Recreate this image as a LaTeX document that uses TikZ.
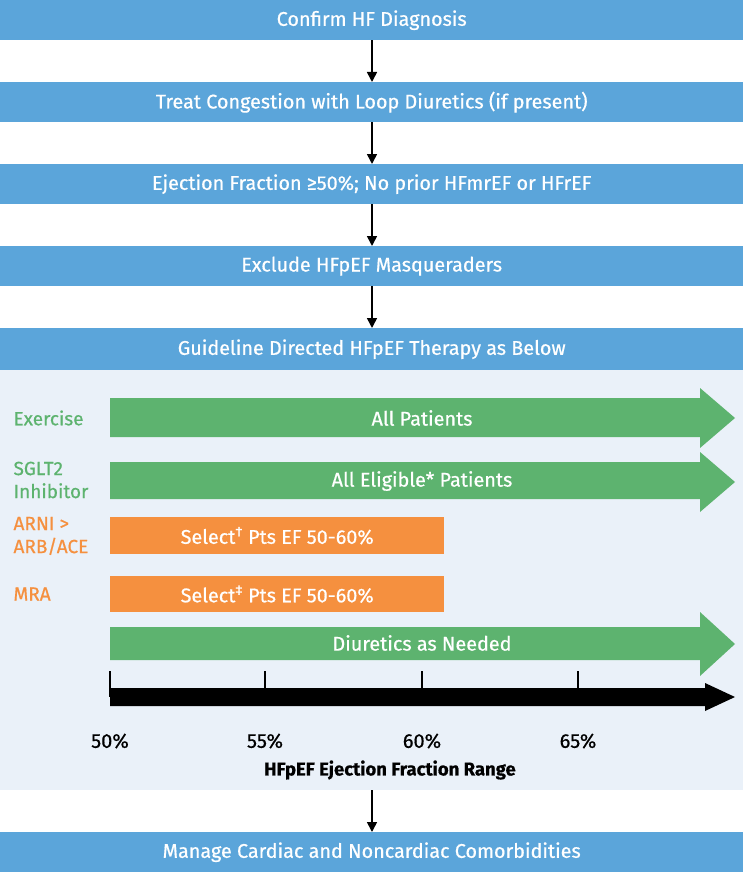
\documentclass[tikz,border=0pt]{standalone}
\usepackage{fontspec}
\setmainfont[FakeBold=0.6]{Fira Sans}
\usetikzlibrary{arrows.meta}
\definecolor{barblue}{HTML}{5BA5DA}
\definecolor{panel}{HTML}{EAF1F9}
\definecolor{grn}{HTML}{5DB36F}
\definecolor{org}{HTML}{F5903F}
\begin{document}
\begin{tikzpicture}[x=1pt,y=-1pt,
 bar/.style={fill=barblue,draw=none,minimum width=743pt,minimum height=40pt,inner sep=0,text=white,font=\fontsize{19.8}{22}\selectfont,anchor=north west},
 flow/.style={-{Triangle[length=10pt,width=10pt]},line width=1.6pt},
 lab/.style={anchor=west,font=\fontsize{19}{23}\selectfont,align=left},
 wt/.style={text=white,font=\fontsize{19.8}{22}\selectfont}]
\useasboundingbox (0,0) rectangle (745,875);
\fill[white] (0,0) rectangle (745,875);
\fill[panel] (0,370) rectangle (743,790);
\node[bar] (b1) at (0,0) {Confirm HF Diagnosis};
\node[bar] (b2) at (0,82) {Treat Congestion with Loop Diuretics (if present)};
\node[bar] (b3) at (0,164) {Ejection Fraction ≥50\%; No prior HFmrEF or HFrEF};
\node[bar] (b4) at (0,246) {Exclude HFpEF Masqueraders};
\node[bar,minimum height=42pt] (b5) at (0,328) {Guideline Directed HFpEF Therapy as Below};
\node[bar] (b6) at (0,832) {Manage Cardiac and Noncardiac Comorbidities};
\coordinate (pb) at (372,790);
\draw[flow] (b1.south -| 372,0) -- (b2.north -| 372,0);
\draw[flow] (b2.south -| 372,0) -- (b3.north -| 372,0);
\draw[flow] (b3.south -| 372,0) -- (b4.north -| 372,0);
\draw[flow] (b4.south -| 372,0) -- (b5.north -| 372,0);
\draw[flow] (pb) -- (b6.north -| 372,0);
% green arrows
\fill[grn] (110,398) -- (700,398) -- (700,388) -- (735,418) -- (700,448) -- (700,437) -- (110,437) -- cycle;
\node[wt] (a1) at (422,418) {All Patients};
\fill[grn] (110,462) -- (700,462) -- (700,452) -- (735,482) -- (700,512) -- (700,499) -- (110,499) -- cycle;
\node[wt] (a2) at (422,481) {All Eligible* Patients};
\fill[grn] (110,627) -- (700,627) -- (700,612) -- (735,644) -- (700,676) -- (700,660) -- (110,660) -- cycle;
\node[wt] (a5) at (422,643) {Diuretics as Needed};
\node[fill=org,minimum width=334pt,minimum height=37pt,inner sep=0,anchor=north west,wt] (a3) at (110,517) {Select\textsuperscript{†} Pts EF 50-60\%};
\node[fill=org,minimum width=334pt,minimum height=36pt,inner sep=0,anchor=north west,wt] (a4) at (110,576) {Select\textsuperscript{‡} Pts EF 50-60\%};
\node[lab,text=grn] (l1) at (10,418) {Exercise};
\node[lab,text=grn] (l2) at (10,480) {SGLT2\\Inhibitor};
\node[lab,text=org] (l3) at (10,536) {ARNI >\\ARB/ACE};
\node[lab,text=org] (l4) at (10,594) {MRA};
% axis
\fill[black] (110,688) -- (705,688) -- (705,683) -- (735,697) -- (705,711) -- (705,706) -- (110,706) -- cycle;
\foreach \x/\t in {110/50,265/55,422/60,578/65}{
 \draw[line width=2.6pt] (\x,671) -- (\x,697);
 \node[font=\fontsize{20}{22}\selectfont] (t\t) at (\x,741) {\t\%};}
\node[font=\bfseries\fontsize{18.5}{22}\selectfont] (ax) at (390,770) {HFpEF Ejection Fraction Range};
\end{tikzpicture}
\end{document}
